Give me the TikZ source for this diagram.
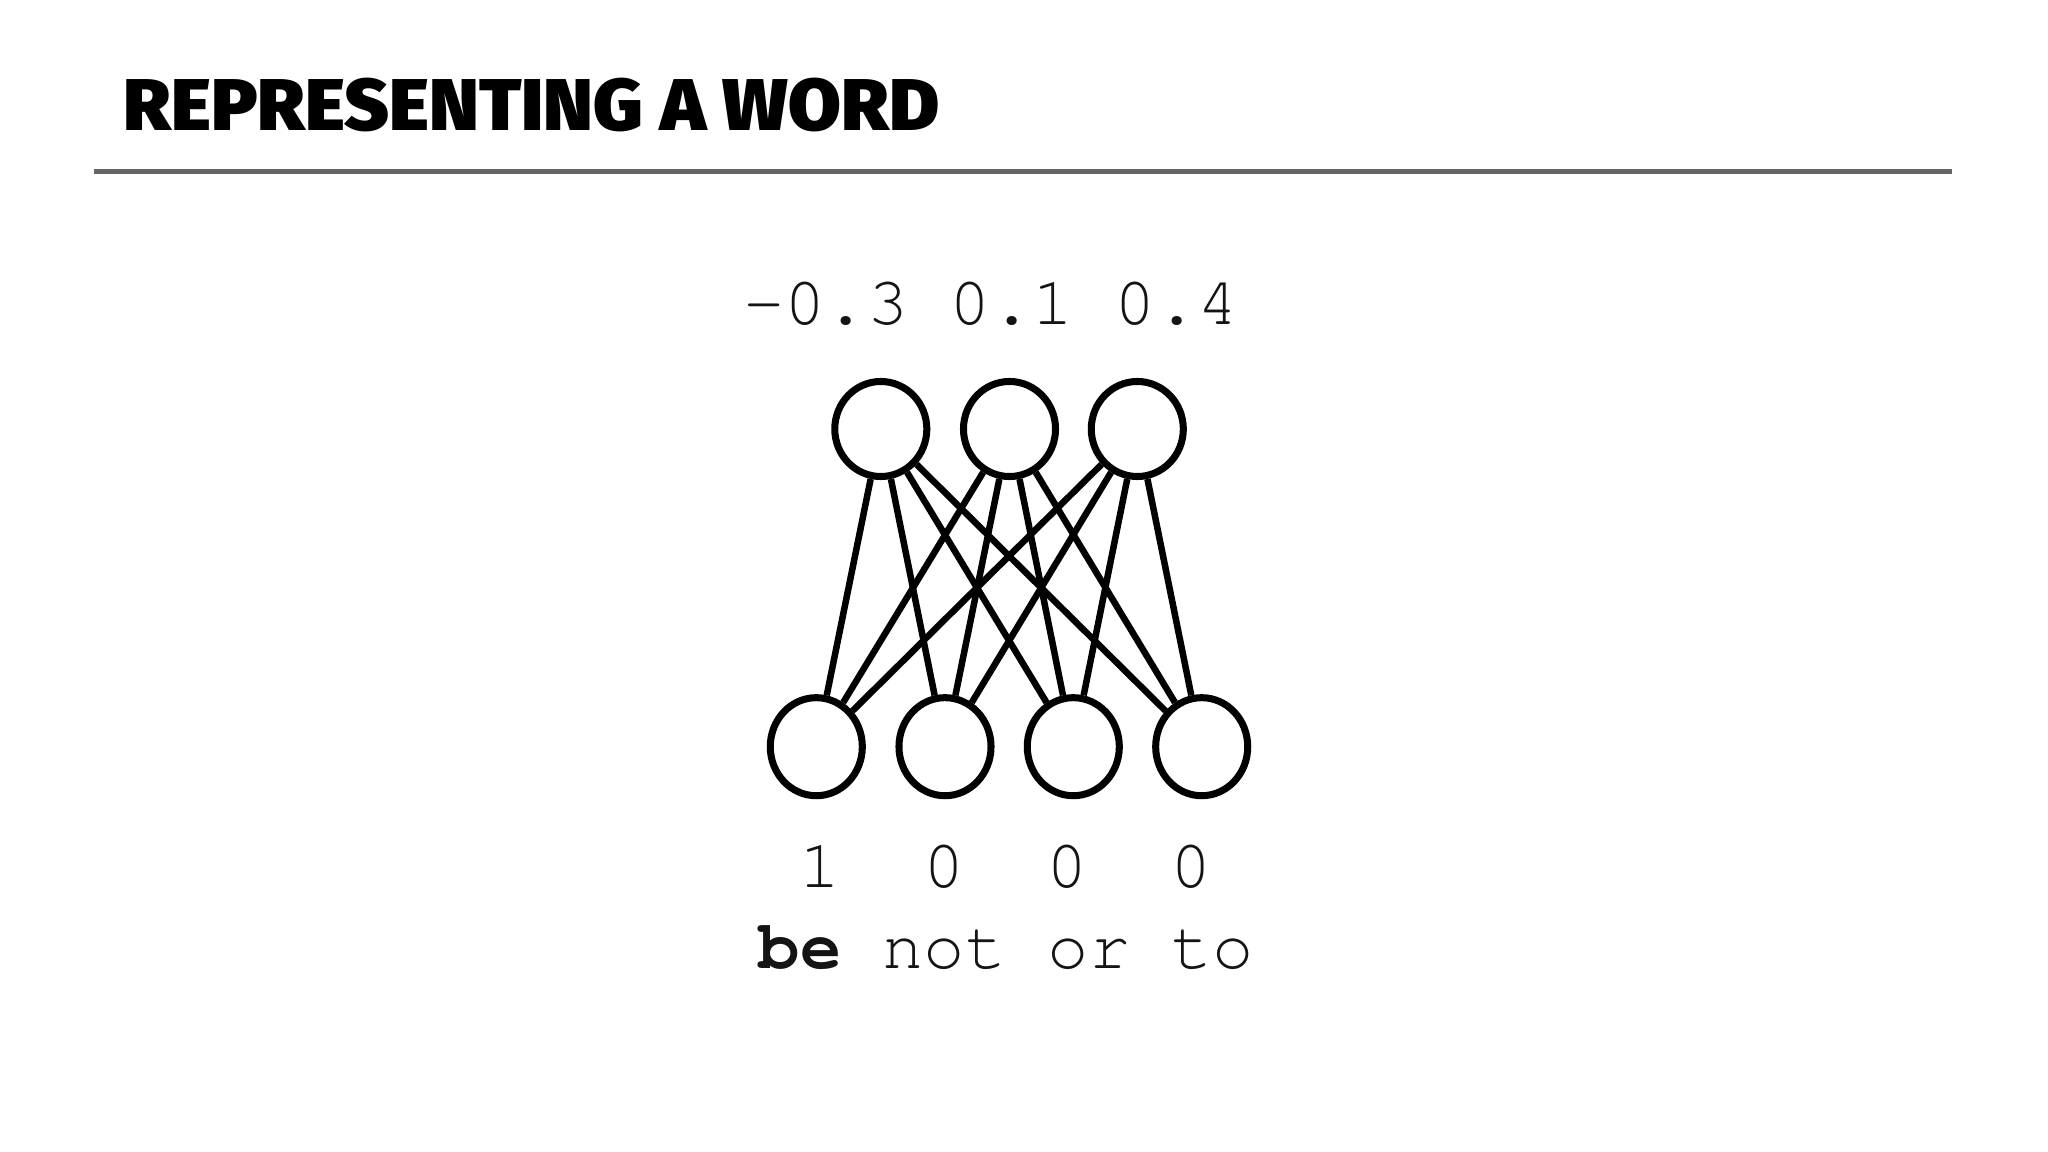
\documentclass[tikz,border=0pt]{standalone}
\usepackage{fontspec}
\setmonofont{texgyrecursor-regular.otf}[BoldFont=texgyrecursor-bold.otf]
\newfontfamily\titlefont{Fira Sans Black}
\usetikzlibrary{shapes.geometric}
\definecolor{rulegray}{RGB}{102,102,102}
\begin{document}
\begin{tikzpicture}[x=0.01cm,y=-0.01cm,
  neuron/.style={ellipse, draw, line width=2pt, fill=white, inner sep=0pt, minimum width=0.92cm},
  topn/.style={neuron, minimum height=0.95cm},
  botn/.style={neuron, minimum height=0.98cm},
  link/.style={line width=1.85pt},
  monotext/.style={font=\ttfamily\fontsize{19.56pt}{22pt}\selectfont, inner sep=0pt, anchor=base, text=black!92}]
\useasboundingbox[fill=white] (0,0) rectangle (2048,1152);
% title and rule
\node[anchor=base west, inner sep=0pt] (title) at (123,130.7) {\resizebox{8.15cm}{0.524cm}{\titlefont REPRESENTING A WORD}};
\coordinate (ruleL) at (94,171.5);
\coordinate (ruleR) at (1952,171.5);
\draw[rulegray, line width=0.043cm] (ruleL) -- (ruleR);
% neurons
\node[topn] (t1) at (880.8,429) {};
\node[topn] (t2) at (1009.5,429) {};
\node[topn] (t3) at (1137.3,429) {};
\node[botn] (b1) at (816.3,746.7) {};
\node[botn] (b2) at (945,746.7) {};
\node[botn] (b3) at (1073.3,746.7) {};
\node[botn] (b4) at (1201.7,746.7) {};
\foreach \t in {t1,t2,t3}{
  \foreach \b in {b1,b2,b3,b4}{
    \draw[link] (\t) -- (\b);
  }
}
% labels
\node[monotext] (vals) at (991,325) {-0.3 0.1 0.4};
\node[monotext] (onehot) at (1005.7,887) {1~~0~~0~~0};
\node[monotext] (words) at (1006.5,968) {\textbf{be} not or to};
\end{tikzpicture}
\end{document}
